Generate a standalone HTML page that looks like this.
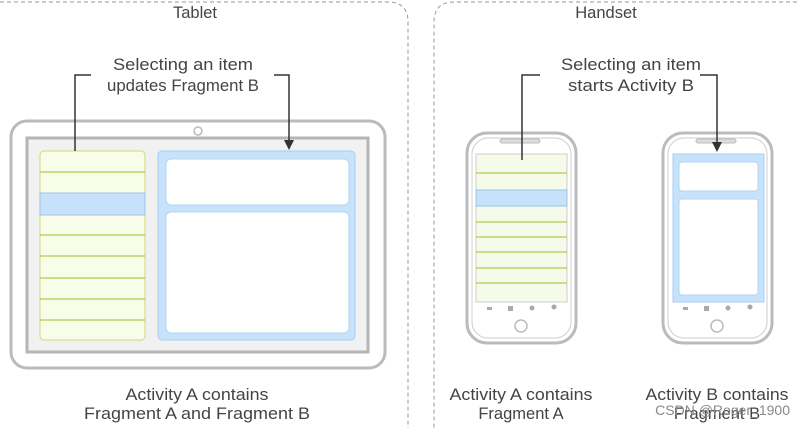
<!DOCTYPE html>
<html><head><meta charset="utf-8"><style>
html,body{margin:0;padding:0;background:#fff;}
svg{display:block;}
text{font-family:"Liberation Sans",sans-serif;fill:#444;font-size:16.5px;}
</style></head><body>
<svg width="797" height="428" viewBox="0 0 797 428" xmlns="http://www.w3.org/2000/svg">
<path d="M0 2 H388 Q408 2 408 22 V428" fill="none" stroke="#999" stroke-dasharray="4,3"/>
<path d="M797 2 H454 Q434 2 434 22 V428" fill="none" stroke="#999" stroke-dasharray="4,3"/>
<text x="195" y="18" text-anchor="middle" fill="#666">Tablet</text>
<text x="606" y="18" text-anchor="middle" fill="#666">Handset</text>

<text x="183" y="70" text-anchor="middle" textLength="140" lengthAdjust="spacingAndGlyphs">Selecting an item</text>
<text x="183" y="91" text-anchor="middle" textLength="152" lengthAdjust="spacingAndGlyphs">updates Fragment B</text>
<text x="631" y="70" text-anchor="middle" textLength="140" lengthAdjust="spacingAndGlyphs">Selecting an item</text>
<text x="631" y="91" text-anchor="middle" textLength="126" lengthAdjust="spacingAndGlyphs">starts Activity B</text>

<rect x="11" y="121" width="374" height="247" rx="16" fill="#fff" stroke="#bbb" stroke-width="3"/>
<rect x="27" y="138" width="341" height="214" fill="#f1f1f1" stroke="#b5b5b5" stroke-width="3"/>
<circle cx="198" cy="131" r="4" fill="#fff" stroke="#bbb" stroke-width="1.5"/>
<rect x="40" y="151" width="105" height="189" rx="4" fill="#f7fde8" stroke="#cddc74"/>
<rect x="40" y="193" width="105" height="22" fill="#c6e2fb" stroke="#9cc3e4"/>
<g stroke="#b7c94b" stroke-width="1.2">
<line x1="40" y1="172" x2="145" y2="172"/><line x1="40" y1="235" x2="145" y2="235"/>
<line x1="40" y1="256" x2="145" y2="256"/><line x1="40" y1="278" x2="145" y2="278"/>
<line x1="40" y1="299" x2="145" y2="299"/><line x1="40" y1="320" x2="145" y2="320"/>
</g>
<rect x="158" y="151" width="197" height="189" rx="4" fill="#c7e2fb" stroke="#a8cdef"/>
<rect x="166" y="159" width="183" height="46" rx="5" fill="#fff" stroke="#b5d4ee"/>
<rect x="166" y="212" width="183" height="121" rx="5" fill="#fff" stroke="#b5d4ee"/>
<path d="M75 151 V75 H91" fill="none" stroke="#333" stroke-width="1.5"/>
<path d="M274 75 H289 V140" fill="none" stroke="#333" stroke-width="1.5"/>
<polygon points="284,140 294,140 289,150" fill="#333"/>

<g>
<rect x="467" y="133" width="109" height="210" rx="20" fill="#fff" stroke="#bbb" stroke-width="3"/>
<rect x="472" y="138" width="99" height="200" rx="16" fill="none" stroke="#ccc"/>
<rect x="500" y="139" width="40" height="4" rx="2" fill="#ddd" stroke="#bbb"/>
<rect x="476" y="154" width="91" height="148" fill="#f6fbe9" stroke="#ccc"/>
<rect x="476" y="190" width="91" height="16" fill="#c6e2fb" stroke="#9cc3e4"/>
<g stroke="#b7c94b" stroke-width="1.2">
<line x1="476" y1="173" x2="567" y2="173"/><line x1="476" y1="222" x2="567" y2="222"/>
<line x1="476" y1="237" x2="567" y2="237"/><line x1="476" y1="252" x2="567" y2="252"/>
<line x1="476" y1="268" x2="567" y2="268"/><line x1="476" y1="283" x2="567" y2="283"/>
</g>
<g fill="#aaa"><rect x="487" y="307" width="5" height="3"/><rect x="508" y="306" width="5" height="5"/><circle cx="532" cy="308" r="2.5"/><circle cx="554" cy="307" r="2.5"/></g>
<circle cx="521" cy="326" r="6" fill="#fff" stroke="#bbb" stroke-width="1.5"/>
</g>
<g>
<rect x="663" y="133" width="109" height="210" rx="20" fill="#fff" stroke="#bbb" stroke-width="3"/>
<rect x="668" y="138" width="99" height="200" rx="16" fill="none" stroke="#ccc"/>
<rect x="696" y="139" width="40" height="4" rx="2" fill="#ddd" stroke="#bbb"/>
<rect x="673" y="154" width="91" height="148" fill="#c7e2fb" stroke="#a8cdef"/>
<rect x="679" y="162" width="79" height="29" rx="3" fill="#fff" stroke="#b5d4ee"/>
<rect x="679" y="199" width="79" height="96" rx="3" fill="#fff" stroke="#b5d4ee"/>
<g fill="#aaa"><rect x="683" y="307" width="5" height="3"/><rect x="704" y="306" width="5" height="5"/><circle cx="728" cy="308" r="2.5"/><circle cx="750" cy="307" r="2.5"/></g>
<circle cx="717" cy="326" r="6" fill="#fff" stroke="#bbb" stroke-width="1.5"/>
</g>
<path d="M522 160 V75 H540" fill="none" stroke="#333" stroke-width="1.5"/>
<path d="M700 75 H717 V142" fill="none" stroke="#333" stroke-width="1.5"/>
<polygon points="712,142 722,142 717,152" fill="#333"/>

<text x="197" y="400" text-anchor="middle" textLength="143" lengthAdjust="spacingAndGlyphs">Activity A contains</text>
<text x="197" y="419" text-anchor="middle" textLength="226" lengthAdjust="spacingAndGlyphs">Fragment A and Fragment B</text>
<text x="521" y="400" text-anchor="middle" textLength="143" lengthAdjust="spacingAndGlyphs">Activity A contains</text>
<text x="521" y="419" text-anchor="middle">Fragment A</text>
<text x="717" y="400" text-anchor="middle" textLength="143" lengthAdjust="spacingAndGlyphs">Activity B contains</text>
<text x="717" y="419" text-anchor="middle">Fragment B</text>
<text x="790" y="415" text-anchor="end" style="font-family:'Liberation Sans','Noto Sans CJK SC',sans-serif;font-size:14px;fill:#888">CSDN @Roger_1900</text>
</svg>
</body></html>
